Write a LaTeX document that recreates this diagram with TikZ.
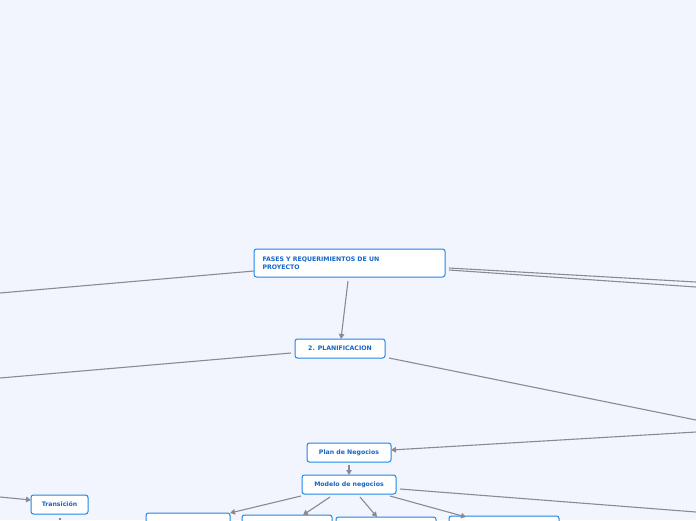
\documentclass[tikz,border=0pt]{standalone}
\usepackage{fontspec}
\setmainfont{DejaVu Sans}
\usetikzlibrary{arrows.meta}
\definecolor{bg}{HTML}{F2F5FE}
\definecolor{bd}{HTML}{1F86EA}
\definecolor{tx}{HTML}{1565C8}
\definecolor{ln}{HTML}{8A8A92}
\tikzset{
 box/.style={draw=bd,fill=white,rounded corners=2.5pt,line width=1pt},
 lbl/.style={text=tx,font=\bfseries\fontsize{6.2}{7.6}\selectfont},
 conn/.style={draw=ln,line width=1.1pt},
 arr/.style={conn,-{Triangle[length=5pt,width=5.5pt]}}
}
\begin{document}
\begin{tikzpicture}[x=1pt,y=-1pt]
\fill[bg] (0,0) rectangle (696,520);
\useasboundingbox (0,0) rectangle (696,520);
\begin{scope}
\clip (0,0) rectangle (696,520);
\draw[box] (254,249) rectangle (445,277);
\node[lbl,anchor=north west,align=left] (t) at (259,253.5) {FASES Y REQUERIMIENTOS DE UN\\PROYECTO};
\coordinate (tb) at (348,281);
\draw[box] (295,339) rectangle (385,358);
\node[lbl] (p) at (340,348.5) {2. PLANIFICACION};
\draw[box] (307,443) rectangle (391,462);
\node[lbl] (pn) at (349,452.5) {Plan de Negocios};
\draw[box] (302,475) rectangle (396,494);
\node[lbl] (mn) at (349,484.5) {Modelo de negocios};
\draw[box] (31,495) rectangle (88,514);
\node[lbl] (tr) at (59.5,504.5) {Transición};
\draw[box] (146,513) rectangle (230,530);
\draw[box] (242,515) rectangle (332,530);
\draw[box] (336,517) rectangle (436,530);
\draw[box] (449,516) rectangle (559,530);
\coordinate (b1) at (230,513);
\coordinate (b2) at (303,515);
\coordinate (b3) at (377,517);
\coordinate (b4) at (466,517);
\coordinate (L1) at (0,293);
\coordinate (R1) at (696,282);
\coordinate (R2) at (696,287);
\coordinate (L2) at (0,378);
\coordinate (R3) at (696,420);
\coordinate (R4) at (696,432);
\coordinate (R5) at (696,512);
\coordinate (L3) at (0,497);
\coordinate (TD) at (60,520);
\draw[conn] (254,271) -- (L1);
\draw[conn] (449,268) -- (R1);
\draw[conn] (449,270) -- (R2);
\draw[arr] (tb) -- (341,339);
\draw[conn] (291,353) -- (L2);
\draw[conn] (389,358) -- (R3);
\draw[arr] (R4) -- (391,450);
\draw[arr] (349,465) -- (349,475);
\draw[conn] (400,489) -- (R5);
\draw[arr] (301,496) -- (b1);
\draw[arr] (330,497) -- (b2);
\draw[arr] (360,497) -- (b3);
\draw[arr] (390,496) -- (b4);
\draw[arr] (L3) -- (31,500);
\draw[conn] (60,518) -- (TD);
\end{scope}
\end{tikzpicture}
\end{document}
